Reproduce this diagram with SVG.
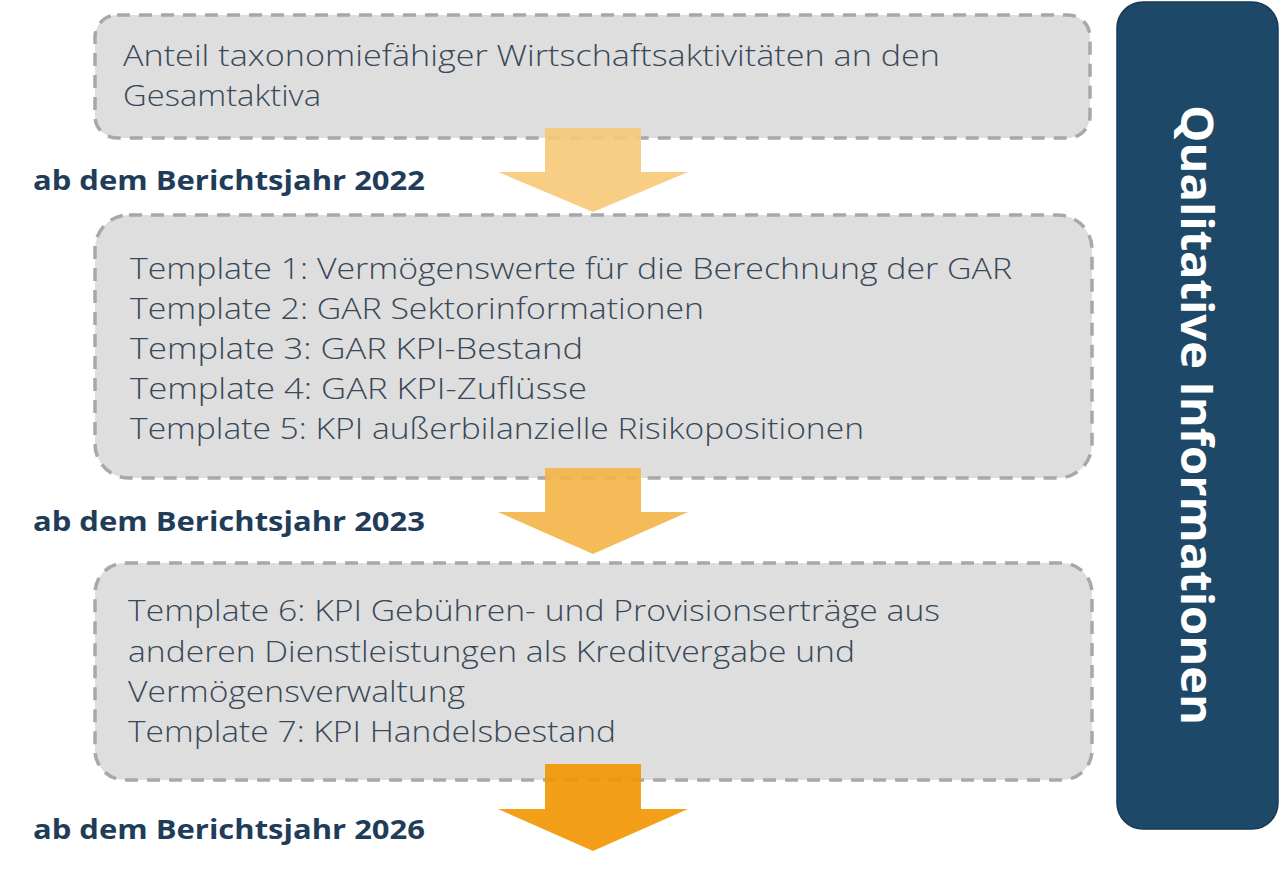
<svg xmlns="http://www.w3.org/2000/svg" width="1280" height="869" viewBox="0 0 1280 869">
<style>
.box{fill:#DEDEDE;stroke:#A8A8A8;stroke-width:3.5;stroke-dasharray:13 9;}
.t{font-family:"Open Sans","Liberation Sans",sans-serif;font-weight:300;font-size:30px;fill:#384858;}
.lbl{font-family:"Open Sans","Liberation Sans",sans-serif;font-weight:700;font-size:26px;fill:#1F3D59;}
.side{font-family:"Open Sans","Liberation Sans",sans-serif;font-weight:700;font-size:44px;fill:#FFFFFF;}
</style>
<rect width="1280" height="869" fill="#FFFFFF"/>
<g id="side-panel">
<rect x="1117" y="2" width="161" height="827" rx="26" fill="#1E4868" stroke="#173A55" stroke-width="1.5"/>
<text class="side" transform="translate(1181,415) rotate(90)" text-anchor="middle" textLength="620" lengthAdjust="spacingAndGlyphs">Qualitative Informationen</text>
</g>
<g id="box1">
<rect class="box" x="95" y="15" width="995" height="123" rx="22"/>
<text class="t" x="123" y="66" textLength="817" lengthAdjust="spacingAndGlyphs">Anteil taxonomiefähiger Wirtschaftsaktivitäten an den</text>
<text class="t" x="123" y="106" textLength="198" lengthAdjust="spacingAndGlyphs">Gesamtaktiva</text>
</g>
<g id="box2">
<rect class="box" x="95" y="215" width="997" height="263" rx="34"/>
<text class="t" x="130" y="279" textLength="882" lengthAdjust="spacingAndGlyphs">Template 1: Vermögenswerte für die Berechnung der GAR</text>
<text class="t" x="130" y="319" textLength="574" lengthAdjust="spacingAndGlyphs">Template 2: GAR Sektorinformationen</text>
<text class="t" x="130" y="359" textLength="453" lengthAdjust="spacingAndGlyphs">Template 3: GAR KPI-Bestand</text>
<text class="t" x="130" y="399" textLength="457" lengthAdjust="spacingAndGlyphs">Template 4: GAR KPI-Zuflüsse</text>
<text class="t" x="130" y="439" textLength="734" lengthAdjust="spacingAndGlyphs">Template 5: KPI außerbilanzielle Risikopositionen</text>
</g>
<g id="box3">
<rect class="box" x="95" y="563" width="997" height="217" rx="30"/>
<text class="t" x="128" y="621" textLength="812" lengthAdjust="spacingAndGlyphs">Template 6: KPI Gebühren- und Provisionserträge aus</text>
<text class="t" x="128" y="662" textLength="727" lengthAdjust="spacingAndGlyphs">anderen Dienstleistungen als Kreditvergabe und</text>
<text class="t" x="128" y="702" textLength="337" lengthAdjust="spacingAndGlyphs">Vermögensverwaltung</text>
<text class="t" x="128" y="742" textLength="488" lengthAdjust="spacingAndGlyphs">Template 7: KPI Handelsbestand</text>
</g>
<g id="connectors">
<polygon points="545,128 641,128 641,172 688,172 593,212 498,172 545,172" fill="#F7C978" fill-opacity="0.9"/>
<polygon points="545,468 641,468 641,512 688,512 593,554 498,512 545,512" fill="#F4B447" fill-opacity="0.9"/>
<polygon points="545,764 641,764 641,809 688,809 593,851 498,809 545,809" fill="#F29500" fill-opacity="0.9"/>
</g>
<g id="label-2022"><text class="lbl" x="33" y="190" textLength="392" lengthAdjust="spacingAndGlyphs">ab dem Berichtsjahr 2022</text></g>
<g id="label-2023"><text class="lbl" x="33" y="531" textLength="392" lengthAdjust="spacingAndGlyphs">ab dem Berichtsjahr 2023</text></g>
<g id="label-2026"><text class="lbl" x="33" y="839" textLength="392" lengthAdjust="spacingAndGlyphs">ab dem Berichtsjahr 2026</text></g>
</svg>
